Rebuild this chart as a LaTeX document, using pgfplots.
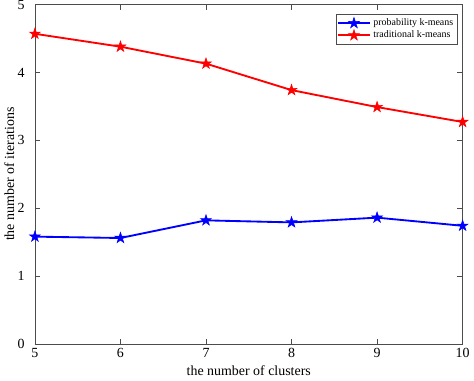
\documentclass[border=0pt]{standalone}
\usepackage{pgfplots}
\pgfplotsset{compat=1.18}
\usepackage{fontspec}
\setmainfont{Liberation Serif}
\pgfdeclareplotmark{pentagram}{%
  \pgfpathmoveto{\pgfpointpolar{90}{\pgfplotmarksize}}%
  \pgfpathlineto{\pgfpointpolar{126}{0.382\pgfplotmarksize}}%
  \pgfpathlineto{\pgfpointpolar{162}{\pgfplotmarksize}}%
  \pgfpathlineto{\pgfpointpolar{198}{0.382\pgfplotmarksize}}%
  \pgfpathlineto{\pgfpointpolar{234}{\pgfplotmarksize}}%
  \pgfpathlineto{\pgfpointpolar{270}{0.382\pgfplotmarksize}}%
  \pgfpathlineto{\pgfpointpolar{306}{\pgfplotmarksize}}%
  \pgfpathlineto{\pgfpointpolar{342}{0.382\pgfplotmarksize}}%
  \pgfpathlineto{\pgfpointpolar{18}{\pgfplotmarksize}}%
  \pgfpathlineto{\pgfpointpolar{54}{0.382\pgfplotmarksize}}%
  \pgfpathclose
  \pgfusepathqfillstroke
}
\begin{document}
\begin{tikzpicture}
\begin{axis}[
 scale only axis, width=322.5pt, height=255.75pt,
 xmin=5, xmax=10, ymin=0, ymax=5,
 xtick={5,6,7,8,9,10}, ytick={0,1,2,3,4,5},
 tick align=inside,
 axis line style={gray!60!black}, tick style={gray!60!black},
 major tick length=4pt,
 xlabel={the number of clusters}, ylabel={the number of iterations},
 /pgf/number format/assume math mode=true,
 tick label style={font=\fontsize{10.5}{12}\selectfont},
 yticklabel style={inner sep=0pt, xshift=-7.5pt},
 label style={font=\fontsize{10.5}{12}\selectfont},
 xlabel style={yshift=1pt},
 ylabel style={yshift=-1pt},
 legend style={at={(0.988,0.971)}, anchor=north east, font=\fontsize{7.5}{9}\selectfont, draw=gray!60!black, inner sep=1pt, row sep=-1.5pt},
 legend cell align=left,
 legend image code/.code={%
   \draw[mark repeat=2, mark phase=2] plot coordinates {(0cm,0cm) (0.42cm,0cm) (0.84cm,0cm)};},
]
\addplot[blue, line width=1.4pt, mark=pentagram, mark size=4.3pt, mark options={solid, fill=blue, line width=0.4pt}] coordinates {
 (5,1.58) (6,1.56) (7,1.82) (8,1.79) (9,1.86) (10,1.74)};
\addlegendentry{probability k-means}
\addplot[red, line width=1.4pt, mark=pentagram, mark size=4.3pt, mark options={solid, fill=red, line width=0.4pt}] coordinates {
 (5,4.57) (6,4.38) (7,4.13) (8,3.74) (9,3.49) (10,3.27)};
\addlegendentry{traditional k-means}
\end{axis}
\end{tikzpicture}
\end{document}
